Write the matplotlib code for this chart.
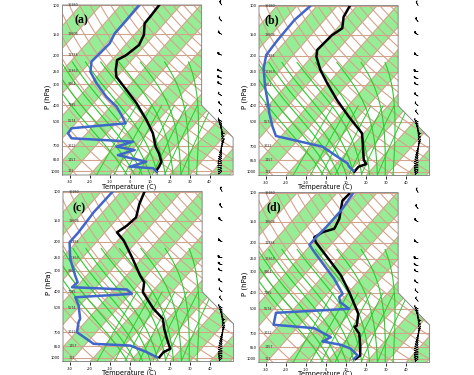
import numpy as np
import matplotlib
matplotlib.use("Agg")
import matplotlib.pyplot as plt
from matplotlib.patches import Polygon

# ---------------- data ----------------
panel_labels = ["(a)", "(b)", "(c)", "(d)"]
t_ticks = [-30, -20, -10, 0, 10, 20, 30, 40]
p_ticks = [100, 150, 200, 250, 300, 400, 500, 700, 850, 1000]
z_labels = ["16180", "13608", "11784", "10363", "9164", "7185", "5574", "3012", "1457", "111"]

# temperature (black) and dew point (blue) profiles: pressure (hPa), value (C)
a_tp = [100, 115, 129, 151, 174, 200, 214, 246, 270, 324, 389, 491, 590, 710, 778, 874, 936, 989, 1000]
a_t = [-60.8, -60.2, -59.9, -55.2, -53.1, -55.0, -57.4, -53.6, -50.3, -39.4, -28.5, -16.0, -6.9, 0.4, 5.0, 10.0, 11.0, 11.4, 12.0]
a_dp = [100, 123, 148, 170, 195, 219, 252, 295, 356, 408, 458, 514, 550, 590, 632, 662, 710, 743, 798, 874, 936, 956, 1000]
a_d = [-70.8, -70.5, -70.4, -68.5, -69.0, -69.5, -65.5, -57.4, -46.4, -37.0, -30.8, -25.0, -49.9, -49.4, -45.4, -13.1, -19.2, -8.6, -14.7, 2.4, -3.7, 8.7, 11.9]

b_tp = [101, 117, 137, 151, 185, 203, 244, 293, 370, 465, 586, 705, 847, 896, 930, 996]
b_t = [-63.5, -61.8, -57.4, -59.5, -60.3, -57.7, -49.8, -40.5, -28.1, -14.9, -0.8, 5.6, 11.9, 15.0, 12.3, 12.4]
b_dp = [101, 122, 161, 198, 238, 307, 370, 444, 535, 608, 705, 810, 887, 930, 983]
b_d = [-83.3, -85.0, -84.5, -83.6, -79.0, -70.1, -62.9, -56.1, -48.5, -42.7, -14.6, -2.7, 5.2, 7.6, 11.5]

c_tp = [101, 119, 143, 160, 176, 197, 248, 320, 351, 403, 507, 582, 668, 767, 881, 923, 989]
c_t = [-68.2, -65.4, -61.1, -62.0, -64.0, -57.0, -45.5, -33.2, -28.2, -24.4, -11.7, -2.6, 2.5, 8.3, 14.4, 12.5, 12.7]
c_dp = [101, 133, 176, 202, 254, 320, 351, 376, 388, 412, 432, 484, 582, 610, 668, 700, 822, 842, 923, 989]
c_d = [-84.3, -84.6, -83.3, -83.3, -75.6, -65.7, -61.5, -62.1, -33.6, -29.2, -56.0, -50.7, -44.0, -43.3, -40.9, -39.7, -26.2, -7.1, 4.2, 11.4]

d_tp = [102, 112, 144, 165, 173, 186, 199, 262, 315, 397, 477, 535, 630, 641, 706, 830, 953, 1000]
d_t = [-63.4, -63.8, -57.3, -55.4, -59.7, -61.6, -58.6, -42.2, -31.3, -19.7, -11.0, -5.6, -1.1, -1.7, 3.8, 9.5, 13.9, 13.1]
d_dp = [102, 128, 162, 181, 206, 228, 275, 330, 406, 426, 456, 500, 528, 623, 653, 740, 785, 822, 869, 953, 1000]
d_d = [-61.7, -60.1, -60.2, -60.7, -60.7, -55.0, -44.0, -33.2, -22.3, -22.5, -19.8, -12.3, -47.2, -43.1, -21.2, -8.9, -11.2, -0.5, 6.3, 12.6, 12.3]

# wind barbs: pressure (hPa), speed (kt), direction (deg)
wind_p_upper = [100, 125, 150, 200, 250, 275, 300, 350, 400, 450]
a_ws = [20, 15, 25, 30, 35, 30, 25, 20, 15, 10]
b_ws = [15, 20, 25, 30, 30, 25, 20, 20, 15, 10]
c_ws = [20, 20, 30, 35, 30, 30, 25, 20, 15, 10]
d_ws = [15, 15, 25, 25, 30, 25, 20, 15, 15, 10]
wind_d_upper = [330, 320, 300, 290, 280, 285, 290, 300, 310, 320]
wind_p_lower = [500, 515, 530, 545, 560, 575, 590, 605, 620, 640, 660, 680, 700, 720,
                740, 760, 780, 800, 820, 840, 860, 880, 900, 920, 940, 960, 980, 1000]
wind_s_lower = [10, 10, 5, 5, 10, 5, 5, 5, 10, 5, 5, 5, 5, 5,
                5, 5, 5, 5, 5, 5, 5, 5, 5, 5, 5, 5, 5, 5]
wind_d_lower = [300, 310, 320, 330, 340, 350, 0, 10, 20, 30, 40, 30, 20, 10,
                0, 350, 340, 330, 320, 310, 300, 290, 280, 270, 260, 250, 240, 230]

# ---------------- skew-T geometry ----------------
def skewty(p):
    return 132.182 - 44.061 * np.log10(np.asarray(p, dtype=float))

def skewtx(t, y):
    return 0.54 * np.asarray(t, dtype=float) + 0.90692 * np.asarray(y, dtype=float)

XMIN, XMAX, XMID = -19.0, 27.1, 18.6
YMIN, YMAX = -0.9346217, 44.061
PX = [XMIN, XMIN, XMID, XMID, XMAX, XMAX, XMIN]
PY = [YMIN, YMAX, YMAX, 17.53, 9.0, YMIN, YMIN]

GREEN_FILL = "#95ee95"
TAN = "#d3a48c"
GREEN_LINE = "#2ccc2c"

def moist_adiabat(thw, ptop):
    Rd, cp, Lv, eps = 287.04, 1005.7, 2.501e6, 0.622
    def dtdp(T, p):
        es = 6.112 * np.exp(17.67 * (T - 273.15) / (T - 29.65))
        rs = eps * es / (p - es)
        return (Rd * T + Lv * rs) / (p * (cp + Lv * Lv * rs * eps / (Rd * T * T)))
    def integrate(p0, p1, dp):
        ps, ts = [p0], [thw + 273.15]
        p, T = p0, thw + 273.15
        while (p1 - p) * np.sign(dp) > 0:
            k1 = dtdp(T, p)
            k2 = dtdp(T + k1 * dp, p + dp)
            T += 0.5 * (k1 + k2) * dp
            p += dp
            ps.append(p); ts.append(T)
        return np.array(ps), np.array(ts) - 273.15
    pu, tu = integrate(1000.0, ptop, -5.0)
    pd, td = integrate(1000.0, 1050.0, 5.0)
    return np.concatenate([pd[::-1], pu]), np.concatenate([td[::-1], tu])

def mixratio_temp(w, p):
    e = w * p / (622.0 + w)
    l = np.log(e / 6.112)
    return 243.5 * l / (17.67 - l)

fig = plt.figure(figsize=(4.74, 3.75), dpi=100)
W, H = 474.0, 375.0
AW, AH = 170.6, 170.0
boxes = [(62.5, 5.0), (259.0, 5.5), (63.0, 191.5), (259.0, 192.5)]
label_pos = [(81, 20.5), (272, 20.5), (79, 208), (274, 207.5)]

profiles = [(a_tp, a_t, a_dp, a_d, a_ws), (b_tp, b_t, b_dp, b_d, b_ws),
            (c_tp, c_t, c_dp, c_d, c_ws), (d_tp, d_t, d_dp, d_d, d_ws)]

for i, (left, top) in enumerate(boxes):
    ax = fig.add_axes([left / W, 1 - (top + AH) / H, AW / W, AH / H])
    ax.set_xlim(XMIN, XMAX)
    ax.set_ylim(YMIN, YMAX)
    for s in ax.spines.values():
        s.set_visible(False)
    clip = Polygon(np.column_stack([PX, PY]), closed=True, fc="white", ec="none", zorder=0)
    ax.add_patch(clip)

    yb, yt = YMIN - 2, YMAX + 2
    # green bands
    for t0 in range(-160, 60, 20):
        xs = [skewtx(t0, yb), skewtx(t0 + 10, yb), skewtx(t0 + 10, yt), skewtx(t0, yt)]
        f = ax.fill(xs, [yb, yb, yt, yt], color=GREEN_FILL, lw=0, zorder=1)[0]
        f.set_clip_path(clip)
    # isotherms
    for t in range(-160, 70, 10):
        ln, = ax.plot([skewtx(t, yb), skewtx(t, yt)], [yb, yt], color=TAN, lw=0.8, zorder=2)
        ln.set_clip_path(clip)
    # dry adiabats
    pp = np.geomspace(1060, 95, 80)
    for th in range(-40, 200, 10):
        tt = (th + 273.15) * (pp / 1000.0) ** 0.2857 - 273.15
        yy = skewty(pp)
        ln, = ax.plot(skewtx(tt, yy), yy, color=TAN, lw=0.8, zorder=2)
        ln.set_clip_path(clip)
    # isobars
    for p in p_ticks:
        y = float(skewty(p))
        ln, = ax.plot([XMIN, XMAX], [y, y], color=TAN, lw=0.8, zorder=2)
        ln.set_clip_path(clip)
    # moist adiabats
    for thw in [-4, 0, 4, 8, 12, 16, 20, 24, 28, 32]:
        mp, mt = moist_adiabat(thw, 220.0)
        yy = skewty(mp)
        ln, = ax.plot(skewtx(mt, yy), yy, color=GREEN_LINE, lw=0.8, zorder=3)
        ln.set_clip_path(clip)
    # mixing ratio lines
    pm = np.geomspace(1050, 400, 30)
    for w in [1, 2, 3, 5, 8, 12, 20]:
        tm = mixratio_temp(w, pm)
        yy = skewty(pm)
        ln, = ax.plot(skewtx(tm, yy), yy, color=GREEN_LINE, lw=0.7, zorder=3)
        ln.set_clip_path(clip)

    # outline
    ax.plot(PX, PY, color="#7a7a7a", lw=0.6, zorder=6, clip_on=False)

    # height labels
    for p, z in zip(p_ticks, z_labels):
        ax.text(-17.6, float(skewty(p)), z, fontsize=2.4, color="#333333",
                ha="left", va="center", zorder=7)

    # soundings
    tp, tv, dp, dv, ws = profiles[i]
    yT = skewty(tp)
    ax.plot(skewtx(tv, yT), yT, color="black", lw=1.8, zorder=8, solid_joinstyle="round")
    yD = skewty(dp)
    ax.plot(skewtx(dv, yD), yD, color="#3f66c8", lw=1.8, zorder=8, solid_joinstyle="round")

    # wind barbs
    wp = np.array(wind_p_upper + wind_p_lower, dtype=float)
    wsp = np.array(ws + wind_s_lower, dtype=float)
    wdr = np.deg2rad(np.array(wind_d_upper + wind_d_lower, dtype=float))
    u = -wsp * np.sin(wdr)
    v = -wsp * np.cos(wdr)
    ax.barbs(np.full(len(wp), 24.0), skewty(wp), u, v, length=2.4, linewidth=0.45,
             color="black", clip_on=False, zorder=9,
             sizes=dict(emptybarb=0.1, spacing=0.15, height=0.35))

    # ticks
    ax.set_xticks([float(skewtx(t, YMIN)) for t in t_ticks])
    ax.set_xticklabels([str(t) for t in t_ticks], fontsize=2.6)
    ax.tick_params(axis="x", direction="out", length=2.5, width=0.6, pad=1.2)
    ax.set_yticks([float(skewty(p)) for p in p_ticks])
    ax.set_yticklabels([str(p) for p in p_ticks], fontsize=2.6)
    ax.tick_params(axis="y", length=0, pad=1.8)

    ax.text(0.39, -0.069, "Temperature (C)", transform=ax.transAxes, fontsize=4.8,
            ha="center", va="center")
    ax.text(-0.085, 0.46, "P (hPa)", transform=ax.transAxes, fontsize=5,
            ha="center", va="center", rotation=90)

    lx, ly = label_pos[i]
    fig.text(lx / W, 1 - ly / H, panel_labels[i], fontsize=8.5, fontweight="bold",
             family="Liberation Serif", ha="center", va="center")

fig.savefig("out.png", dpi=100)
